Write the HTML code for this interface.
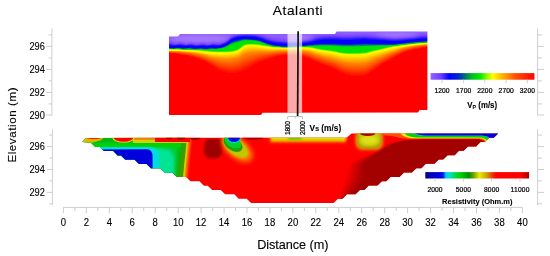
<!DOCTYPE html>
<html lang="en"><head><meta charset="utf-8"><title>Atalanti</title>
<style>html,body{margin:0;padding:0;background:#fff;overflow:hidden}svg{display:block}text{font-family:"Liberation Sans",sans-serif;fill:#111}.s{fill:#000;stroke:#000;stroke-width:0.22px}.b{fill:#000;stroke:#000;stroke-width:0.1px}.m{fill:#000;stroke:#000;stroke-width:0.12px}</style></head><body>
<svg width="550" height="256" viewBox="0 0 550 256">
<rect width="550" height="256" fill="#fff"/>
<defs><clipPath id="ct"><polygon points="169,36.6 178,36.6 180,34 335,34 336.5,31.4 427.4,31.4 427.4,110 419.5,110 418,112.5 262.5,112.8 261,115 169,115"/></clipPath><clipPath id="cb"><polygon points="82.5,142 86,138 346.5,137.7 351.6,133.4 498.2,133.4 498.2,133.4 493.8,137.8 489.3,137.8 484.9,142.1 480.5,142.1 476.1,146.5 468,146.4 463.6,150.8 459,150.8 454.6,155.2 447.6,155.2 443.2,159.5 438.8,159.5 434.4,163.8 425.8,163.8 421.4,168.2 416.3,168.2 411.9,172.5 403.9,172.6 399.5,176.9 390.6,176.9 386.2,181.2 381.8,181.2 377.4,185.6 368.8,185.6 364.4,189.9 359.9,189.9 355.5,194.3 346.9,194.3 342.5,198.7 338,198.7 333.6,203 251.1,203 251.1,203 246.7,198.7 238.7,198.7 234.3,194.3 225.1,194.3 220.7,190 212.1,190 207.7,185.7 203.9,185.7 199.5,181.3 190.5,181.3 186.1,177 177,177 172.6,172.7 164.5,172.7 160.1,168.3 151,168.3 146.6,164 139,164 134.6,159.7 125.4,159.7 121,155.4 117.7,155.4 113.3,151 103.9,151 99.5,146.7 95.2,146.7 90.8,142.4"/></clipPath><filter id="b05" x="-10%" y="-10%" width="120%" height="120%"><feGaussianBlur stdDeviation="0.5"/></filter><filter id="b1" x="-50%" y="-50%" width="200%" height="200%"><feGaussianBlur stdDeviation="1"/></filter><filter id="b15" x="-50%" y="-50%" width="200%" height="200%"><feGaussianBlur stdDeviation="1.5"/></filter><filter id="b2" x="-50%" y="-50%" width="200%" height="200%"><feGaussianBlur stdDeviation="2"/></filter><filter id="b3" x="-50%" y="-50%" width="200%" height="200%"><feGaussianBlur stdDeviation="3"/></filter><filter id="b4" x="-50%" y="-50%" width="200%" height="200%"><feGaussianBlur stdDeviation="4"/></filter><filter id="b07" x="-50%" y="-50%" width="200%" height="200%"><feGaussianBlur stdDeviation="0.7"/></filter><linearGradient id="gvp" x1="0" x2="1" y1="0" y2="0"><stop offset="0" stop-color="#965fff"/><stop offset="0.1" stop-color="#6e3cff"/><stop offset="0.18" stop-color="#0000ff"/><stop offset="0.27" stop-color="#0028c8"/><stop offset="0.33" stop-color="#006e6e"/><stop offset="0.4" stop-color="#00be1e"/><stop offset="0.48" stop-color="#00eb00"/><stop offset="0.54" stop-color="#8cf500"/><stop offset="0.6" stop-color="#ffff00"/><stop offset="0.7" stop-color="#ffaa00"/><stop offset="0.82" stop-color="#ff5000"/><stop offset="1" stop-color="#ff0000"/></linearGradient><linearGradient id="grs" x1="0" x2="1" y1="0" y2="0"><stop offset="0" stop-color="#000096"/><stop offset="0.13" stop-color="#0000e1"/><stop offset="0.172" stop-color="#0014eb"/><stop offset="0.198" stop-color="#00cdee"/><stop offset="0.235" stop-color="#00e1c8"/><stop offset="0.275" stop-color="#00dc64"/><stop offset="0.33" stop-color="#00d700"/><stop offset="0.42" stop-color="#008c00"/><stop offset="0.47" stop-color="#78aa00"/><stop offset="0.52" stop-color="#ebeb00"/><stop offset="0.6" stop-color="#c89600"/><stop offset="0.645" stop-color="#e63c00"/><stop offset="0.68" stop-color="#ff0000"/><stop offset="0.92" stop-color="#ff0000"/><stop offset="1" stop-color="#a50000"/></linearGradient></defs>
<path d="M51.9 28.5V115.4M48.7 34.9H51.9M46.3 46.4H51.9M48.7 57.9H51.9M46.3 69.4H51.9M48.7 80.9H51.9M46.3 92.4H51.9M48.7 103.9H51.9M46.3 115H51.9" stroke="#cecece" stroke-width="1" fill="none"/>
<path d="M537.6 28.5V115.4M537.6 34.9H542M537.6 46.4H544M537.6 57.9H542M537.6 69.4H544M537.6 80.9H542M537.6 92.4H544M537.6 103.9H542M537.6 115H544" stroke="#cecece" stroke-width="1" fill="none"/>
<path d="M52.4 129.3V205.3M49.2 135.1H52.4M46.8 146.6H52.4M49.2 158.1H52.4M46.8 169.5H52.4M49.2 180.9H52.4M46.8 192.4H52.4M49.2 203.8H52.4" stroke="#cecece" stroke-width="1" fill="none"/>
<path d="M537.6 129.3V205.3M537.6 135.1H542M537.6 146.6H544M537.6 158.1H542M537.6 169.5H544M537.6 180.9H542M537.6 192.4H544M537.6 203.8H542" stroke="#cecece" stroke-width="1" fill="none"/>
<path d="M63.4 207.4H522.6M63.4 207.4V213.2M74.9 207.4V211M86.3 207.4V213.2M97.8 207.4V211M109.3 207.4V213.2M120.8 207.4V211M132.2 207.4V213.2M143.7 207.4V211M155.2 207.4V213.2M166.7 207.4V211M178.2 207.4V213.2M189.6 207.4V211M201.1 207.4V213.2M212.6 207.4V211M224.1 207.4V213.2M235.5 207.4V211M247 207.4V213.2M258.5 207.4V211M269.9 207.4V213.2M281.4 207.4V211M292.9 207.4V213.2M304.4 207.4V211M315.8 207.4V213.2M327.3 207.4V211M338.8 207.4V213.2M350.3 207.4V211M361.7 207.4V213.2M373.2 207.4V211M384.7 207.4V213.2M396.2 207.4V211M407.6 207.4V213.2M419.1 207.4V211M430.6 207.4V213.2M442.1 207.4V211M453.5 207.4V213.2M465 207.4V211M476.5 207.4V213.2M488 207.4V211M499.4 207.4V213.2M510.9 207.4V211M522.4 207.4V213.2" stroke="#cecece" stroke-width="1" fill="none"/>
<text x="297.7" y="15" font-size="13.7" text-anchor="middle" textLength="49.8" lengthAdjust="spacing" class="m">Atalanti</text>
<text x="292.8" y="249" font-size="12.7" text-anchor="middle" textLength="71.2" lengthAdjust="spacing" class="m">Distance (m)</text>
<text transform="translate(15.8 125) rotate(-90)" class="m" font-size="11.6" text-anchor="middle" textLength="75.2" lengthAdjust="spacing">Elevation (m)</text>
<text x="44.8" y="49.9" font-size="10" text-anchor="end" textLength="15.4" lengthAdjust="spacingAndGlyphs" class="m">296</text>
<text x="44.8" y="73" font-size="10" text-anchor="end" textLength="15.4" lengthAdjust="spacingAndGlyphs" class="m">294</text>
<text x="44.8" y="96" font-size="10" text-anchor="end" textLength="15.4" lengthAdjust="spacingAndGlyphs" class="m">292</text>
<text x="44.8" y="118.5" font-size="10" text-anchor="end" textLength="15.4" lengthAdjust="spacingAndGlyphs" class="m">290</text>
<text x="44.8" y="150.2" font-size="10" text-anchor="end" textLength="15.4" lengthAdjust="spacingAndGlyphs" class="m">296</text>
<text x="44.8" y="173.1" font-size="10" text-anchor="end" textLength="15.4" lengthAdjust="spacingAndGlyphs" class="m">294</text>
<text x="44.8" y="196" font-size="10" text-anchor="end" textLength="15.4" lengthAdjust="spacingAndGlyphs" class="m">292</text>
<text x="63.4" y="225.7" font-size="10.2" text-anchor="middle" textLength="5.3" lengthAdjust="spacingAndGlyphs" class="m">0</text>
<text x="86.3" y="225.7" font-size="10.2" text-anchor="middle" textLength="5.3" lengthAdjust="spacingAndGlyphs" class="m">2</text>
<text x="109.3" y="225.7" font-size="10.2" text-anchor="middle" textLength="5.3" lengthAdjust="spacingAndGlyphs" class="m">4</text>
<text x="132.2" y="225.7" font-size="10.2" text-anchor="middle" textLength="5.3" lengthAdjust="spacingAndGlyphs" class="m">6</text>
<text x="155.2" y="225.7" font-size="10.2" text-anchor="middle" textLength="5.3" lengthAdjust="spacingAndGlyphs" class="m">8</text>
<text x="178.2" y="225.7" font-size="10.2" text-anchor="middle" textLength="10.6" lengthAdjust="spacingAndGlyphs" class="m">10</text>
<text x="201.1" y="225.7" font-size="10.2" text-anchor="middle" textLength="10.6" lengthAdjust="spacingAndGlyphs" class="m">12</text>
<text x="224.1" y="225.7" font-size="10.2" text-anchor="middle" textLength="10.6" lengthAdjust="spacingAndGlyphs" class="m">14</text>
<text x="247" y="225.7" font-size="10.2" text-anchor="middle" textLength="10.6" lengthAdjust="spacingAndGlyphs" class="m">16</text>
<text x="269.9" y="225.7" font-size="10.2" text-anchor="middle" textLength="10.6" lengthAdjust="spacingAndGlyphs" class="m">18</text>
<text x="292.9" y="225.7" font-size="10.2" text-anchor="middle" textLength="10.6" lengthAdjust="spacingAndGlyphs" class="m">20</text>
<text x="315.8" y="225.7" font-size="10.2" text-anchor="middle" textLength="10.6" lengthAdjust="spacingAndGlyphs" class="m">22</text>
<text x="338.8" y="225.7" font-size="10.2" text-anchor="middle" textLength="10.6" lengthAdjust="spacingAndGlyphs" class="m">24</text>
<text x="361.7" y="225.7" font-size="10.2" text-anchor="middle" textLength="10.6" lengthAdjust="spacingAndGlyphs" class="m">26</text>
<text x="384.7" y="225.7" font-size="10.2" text-anchor="middle" textLength="10.6" lengthAdjust="spacingAndGlyphs" class="m">28</text>
<text x="407.6" y="225.7" font-size="10.2" text-anchor="middle" textLength="10.6" lengthAdjust="spacingAndGlyphs" class="m">30</text>
<text x="430.6" y="225.7" font-size="10.2" text-anchor="middle" textLength="10.6" lengthAdjust="spacingAndGlyphs" class="m">32</text>
<text x="453.5" y="225.7" font-size="10.2" text-anchor="middle" textLength="10.6" lengthAdjust="spacingAndGlyphs" class="m">34</text>
<text x="476.5" y="225.7" font-size="10.2" text-anchor="middle" textLength="10.6" lengthAdjust="spacingAndGlyphs" class="m">36</text>
<text x="499.4" y="225.7" font-size="10.2" text-anchor="middle" textLength="10.6" lengthAdjust="spacingAndGlyphs" class="m">38</text>
<text x="522.4" y="225.7" font-size="10.2" text-anchor="middle" textLength="10.6" lengthAdjust="spacingAndGlyphs" class="m">40</text>
<text x="442" y="93" font-size="6.7" text-anchor="middle" textLength="15.2" lengthAdjust="spacing" class="s">1200</text>
<text x="463.6" y="93" font-size="6.7" text-anchor="middle" textLength="15.2" lengthAdjust="spacing" class="s">1700</text>
<text x="484.8" y="93" font-size="6.7" text-anchor="middle" textLength="15.2" lengthAdjust="spacing" class="s">2200</text>
<text x="506.2" y="93" font-size="6.7" text-anchor="middle" textLength="15.2" lengthAdjust="spacing" class="s">2700</text>
<text x="527.4" y="93" font-size="6.7" text-anchor="middle" textLength="15.2" lengthAdjust="spacing" class="s">3200</text>
<text x="435" y="192" font-size="6.7" text-anchor="middle" textLength="15.2" lengthAdjust="spacing" class="s">2000</text>
<text x="463.4" y="192" font-size="6.7" text-anchor="middle" textLength="15.2" lengthAdjust="spacing" class="s">5000</text>
<text x="491.6" y="192" font-size="6.7" text-anchor="middle" textLength="15.2" lengthAdjust="spacing" class="s">8000</text>
<text x="520" y="192" font-size="6.7" text-anchor="middle" textLength="19" lengthAdjust="spacing" class="s">11000</text>
<text x="482.2" y="107.8" class="b" font-size="9" font-weight="bold" text-anchor="middle" textLength="29.8" lengthAdjust="spacingAndGlyphs">V<tspan font-size="6" dy="1.2">P</tspan><tspan dy="-1.2"> (m/s)</tspan></text>
<text x="309.6" y="131.4" class="b" font-size="9" font-weight="bold" textLength="31.6" lengthAdjust="spacingAndGlyphs">V<tspan font-size="6.2">S</tspan> (m/s)</text>
<text x="477.3" y="204" font-size="8.1" text-anchor="middle" font-weight="bold" textLength="70.4" lengthAdjust="spacingAndGlyphs" class="b">Resistivity (Ohm.m)</text>
<text transform="translate(290.2 128) rotate(-90)" class="s" font-size="6.8" text-anchor="middle" textLength="14" lengthAdjust="spacing">1800</text>
<text transform="translate(305.4 128) rotate(-90)" class="s" font-size="6.8" text-anchor="middle" textLength="14" lengthAdjust="spacing">2000</text>
<path d="M287.7 119.3V116.5H302.5V119.3M295.2 116.5V118.4" stroke="#b8b8b8" stroke-width="0.9" fill="none"/>
<rect x="430.6" y="73.1" width="103.8" height="6.6" fill="url(#gvp)"/>
<path d="M442 79.7V83.2M463.6 79.7V83.2M484.8 79.7V83.2M506.2 79.7V83.2M527.4 79.7V83.2" stroke="#cecece" stroke-width="0.9" fill="none"/>
<rect x="425.3" y="172.1" width="103.8" height="6.4" fill="url(#grs)"/>
<path d="M435 178.5V181.6M463.4 178.5V181.6M491.6 178.5V181.6M520 178.5V181.6" stroke="#cecece" stroke-width="0.9" fill="none"/>
<g clip-path="url(#ct)"><g filter="url(#b07)">
<rect x="160" y="25" width="275" height="95" fill="#8e5cff"/>
<path d="M160 125L160 34.7 168 34.7 171 34.6 174 35.3 177 35.1 180 34.6 183 34.9 186 35.4 189 35 192 34.7 195 35.3 198 35.5 201 34.9 204 34.8 207 35.4 210 35.3 213 34.7 216 34.9 219 35.3 222 34.6 225 34 228 32.8 231 31.7 234 31.5 237 31.5 240 31.5 243 31.5 246 31.5 249 31.5 252 31.5 255 31.5 258 31.5 261 31.5 264 31.6 267 32.2 270 32.6 273 32.9 276 33.2 279 33.3 282 33.5 285 33.5 288 33.5 291 33.5 294 33.4 297 33.4 300 33.2 303 33.1 306 32.8 309 32.5 312 32.2 315 31.9 318 31.6 321 31.5 324 31.5 327 31.5 330 31.5 333 31.5 336 31 339 31.1 342 31.2 345 31.3 348 31.3 351 31.3 354 31.2 357 31.1 360 31.1 363 31 366 31.1 369 31.1 372 31.3 375 31.3 378 31.3 381 31.4 384 31.5 387 31.6 390 31.8 393 31.9 396 31.9 399 31.9 402 31.7 405 31.6 408 31.5 411 31.3 414 31.2 417 31.1 420 31 423 30.9 426 30.8 429 30.8 436 30.8 L436 125Z" fill="#8e5cff"/>
<path d="M160 125L160 40.8 168 40.8 171 40.8 174 42 177 41.8 180 40.7 183 41.3 186 42.4 189 41.5 192 40.9 195 42 198 42.5 201 41.3 204 41.2 207 42.4 210 42.1 213 40.8 216 41.3 219 42 222 40.7 225 39.4 228 37.2 231 34.8 234 34.3 237 34.2 240 34.1 243 34.1 246 34.1 249 34.1 252 34.1 255 34.1 258 34.2 261 34.3 264 34.7 267 35.9 270 36.7 273 37.4 276 37.8 279 38.2 282 38.5 285 38.6 288 38.6 291 38.5 294 38.4 297 38.2 300 38 303 37.6 306 37.2 309 36.6 312 35.9 315 35.2 318 34.7 321 34.5 324 34.4 327 34.4 330 34.3 333 34.3 336 33.5 339 33.8 342 34 345 34 348 34 351 34.1 354 33.9 357 33.8 360 33.7 363 33.6 366 33.6 369 33.8 372 34 375 34.1 378 34.2 381 34.3 384 34.4 387 34.8 390 35.2 393 35.4 396 35.4 399 35.2 402 34.9 405 34.6 408 34.4 411 34.2 414 33.9 417 33.7 420 33.5 423 33.3 426 33.2 429 33.1 436 33.1 L436 125Z" fill="#8653ff"/>
<path d="M160 125L160 41.8 168 41.8 171 41.8 174 43 177 42.8 180 41.7 183 42.3 186 43.4 189 42.5 192 41.9 195 43 198 43.5 201 42.3 204 42.2 207 43.4 210 43.1 213 41.8 216 42.3 219 43 222 41.7 225 40.4 228 38.2 231 35.8 234 35 237 34.5 240 34.3 243 34.3 246 34.3 249 34.3 252 34.3 255 34.3 258 34.6 261 35 264 35.7 267 36.9 270 37.7 273 38.4 276 38.8 279 39.2 282 39.5 285 39.6 288 39.6 291 39.5 294 39.4 297 39.2 300 39 303 38.6 306 38.2 309 37.6 312 36.9 315 36.2 318 35.7 321 35.4 324 35.2 327 35.1 330 35 333 35 336 34.5 339 34.8 342 35 345 35 348 35 351 35.1 354 34.9 357 34.8 360 34.7 363 34.6 366 34.6 369 34.8 372 35 375 35.1 378 35.2 381 35.3 384 35.4 387 35.8 390 36.2 393 36.4 396 36.4 399 36.2 402 35.9 405 35.6 408 35.4 411 35.2 414 34.9 417 34.7 420 34.5 423 34.3 426 34.2 429 34.1 436 34.1 L436 125Z" fill="#7e4bff"/>
<path d="M160 125L160 42.8 168 42.8 171 42.8 174 44 177 43.8 180 42.7 183 43.3 186 44.4 189 43.5 192 42.9 195 44 198 44.5 201 43.3 204 43.2 207 44.4 210 44.1 213 42.8 216 43.3 219 44 222 42.7 225 41.4 228 39.2 231 36.8 234 35.6 237 34.9 240 34.5 243 34.5 246 34.5 249 34.5 252 34.5 255 34.5 258 35 261 35.7 264 36.7 267 37.9 270 38.7 273 39.4 276 39.8 279 40.2 282 40.5 285 40.6 288 40.6 291 40.5 294 40.4 297 40.2 300 40 303 39.6 306 39.2 309 38.6 312 37.9 315 37.2 318 36.7 321 36.3 324 36 327 35.8 330 35.6 333 35.6 336 35.5 339 35.8 342 36 345 36 348 36 351 36.1 354 35.9 357 35.8 360 35.7 363 35.6 366 35.6 369 35.8 372 36 375 36.1 378 36.2 381 36.3 384 36.4 387 36.8 390 37.2 393 37.4 396 37.4 399 37.2 402 36.9 405 36.6 408 36.4 411 36.2 414 35.9 417 35.7 420 35.5 423 35.3 426 35.2 429 35.1 436 35.1 L436 125Z" fill="#7642ff"/>
<path d="M160 125L160 43.5 168 43.5 171 43.5 174 44.7 177 44.4 180 43.5 183 44.1 186 45 189 44.2 192 43.7 195 44.8 198 45.1 201 44 204 44 207 45.1 210 44.7 213 43.6 216 44.1 219 44.7 222 43.4 225 42.1 228 39.9 231 37.6 234 36.2 237 35.3 240 34.9 243 34.8 246 34.8 249 34.8 252 34.9 255 34.9 258 35.6 261 36.4 264 37.6 267 38.7 270 39.5 273 40.2 276 40.6 279 41 282 41.3 285 41.4 288 41.4 291 41.3 294 41.2 297 41.1 300 40.8 303 40.5 306 40 309 39.4 312 38.8 315 38.1 318 37.5 321 37.1 324 36.8 327 36.6 330 36.4 333 36.4 336 36.4 339 36.7 342 36.9 345 36.9 348 37 351 37 354 36.8 357 36.7 360 36.6 363 36.5 366 36.5 369 36.7 372 36.9 375 37 378 37.1 381 37.2 384 37.3 387 37.7 390 38 393 38.2 396 38.2 399 38.1 402 37.8 405 37.5 408 37.3 411 37 414 36.8 417 36.5 420 36.3 423 36.2 426 36 429 35.9 436 35.9 L436 125Z" fill="#5e35fe"/>
<path d="M160 125L160 44 168 44 171 44.1 174 45 177 44.7 180 44 183 44.6 186 45.3 189 44.6 192 44.3 195 45.2 198 45.4 201 44.5 204 44.5 207 45.4 210 45 213 44.2 216 44.6 219 45 222 43.8 225 42.6 228 40.4 231 38.1 234 36.8 237 35.9 240 35.4 243 35.3 246 35.3 249 35.3 252 35.4 255 35.5 258 36.2 261 37 264 38.2 267 39.4 270 40.2 273 40.8 276 41.3 279 41.7 282 42 285 42.1 288 42.1 291 42 294 41.9 297 41.7 300 41.5 303 41.2 306 40.8 309 40.2 312 39.5 315 38.9 318 38.3 321 37.9 324 37.6 327 37.4 330 37.2 333 37.2 336 37.2 339 37.5 342 37.7 345 37.7 348 37.8 351 37.8 354 37.6 357 37.5 360 37.4 363 37.3 366 37.3 369 37.5 372 37.7 375 37.8 378 37.8 381 37.9 384 38.1 387 38.4 390 38.8 393 39 396 39 399 38.8 402 38.5 405 38.2 408 38 411 37.7 414 37.5 417 37.2 420 37 423 36.8 426 36.7 429 36.6 436 36.6 L436 125Z" fill="#4728fe"/>
<path d="M160 125L160 44.4 168 44.4 171 44.6 174 45.3 177 45 180 44.5 183 45.1 186 45.5 189 45 192 44.8 195 45.6 198 45.6 201 45 204 45.1 207 45.7 210 45.3 213 44.7 216 45.1 219 45.3 222 44.3 225 43.1 228 40.9 231 38.6 234 37.3 237 36.5 240 36 243 35.8 246 35.7 249 35.8 252 35.9 255 36.1 258 36.8 261 37.6 264 38.8 267 40 270 40.8 273 41.5 276 41.9 279 42.3 282 42.6 285 42.8 288 42.7 291 42.6 294 42.6 297 42.4 300 42.2 303 41.9 306 41.5 309 40.9 312 40.3 315 39.6 318 39.1 321 38.7 324 38.4 327 38.2 330 38.1 333 38 336 38.1 339 38.3 342 38.5 345 38.6 348 38.6 351 38.6 354 38.4 357 38.3 360 38.1 363 38.1 366 38.1 369 38.2 372 38.4 375 38.5 378 38.6 381 38.7 384 38.8 387 39.2 390 39.5 393 39.7 396 39.7 399 39.5 402 39.2 405 38.9 408 38.7 411 38.4 414 38.2 417 37.9 420 37.7 423 37.5 426 37.4 429 37.3 436 37.3 L436 125Z" fill="#2f1afd"/>
<path d="M160 125L160 44.9 168 44.9 171 45.2 174 45.6 177 45.3 180 45 183 45.6 186 45.8 189 45.3 192 45.4 195 46 198 45.9 201 45.4 204 45.7 207 46.1 210 45.6 213 45.3 216 45.6 219 45.5 222 44.7 225 43.5 228 41.4 231 39.1 234 37.9 237 37 240 36.5 243 36.2 246 36.1 249 36.2 252 36.4 255 36.7 258 37.4 261 38.3 264 39.5 267 40.6 270 41.5 273 42.1 276 42.6 279 43 282 43.3 285 43.4 288 43.4 291 43.3 294 43.2 297 43.1 300 42.9 303 42.6 306 42.2 309 41.6 312 41 315 40.4 318 39.9 321 39.5 324 39.2 327 39 330 38.9 333 38.9 336 38.9 339 39.2 342 39.4 345 39.4 348 39.4 351 39.4 354 39.2 357 39.1 360 38.9 363 38.8 366 38.8 369 39 372 39.2 375 39.3 378 39.4 381 39.4 384 39.6 387 39.9 390 40.3 393 40.5 396 40.4 399 40.3 402 40 405 39.7 408 39.4 411 39.1 414 38.9 417 38.6 420 38.4 423 38.2 426 38.1 429 38 436 38 L436 125Z" fill="#180dfd"/>
<path d="M160 125L160 45.3 168 45.3 171 45.7 174 46 177 45.6 180 45.6 183 46.1 186 46.1 189 45.7 192 46 195 46.4 198 46.2 201 45.9 204 46.3 207 46.4 210 45.9 213 45.8 216 46.2 219 45.8 222 45.2 225 44 228 41.9 231 39.7 234 38.4 237 37.6 240 37.1 243 36.7 246 36.6 249 36.7 252 36.9 255 37.3 258 38.1 261 38.9 264 40.1 267 41.3 270 42.1 273 42.7 276 43.2 279 43.6 282 43.9 285 44.1 288 44 291 44 294 43.9 297 43.8 300 43.5 303 43.3 306 42.9 309 42.4 312 41.7 315 41.1 318 40.6 321 40.3 324 40 327 39.9 330 39.8 333 39.7 336 39.7 339 40 342 40.2 345 40.2 348 40.2 351 40.2 354 40 357 39.8 360 39.7 363 39.6 366 39.6 369 39.8 372 40 375 40.1 378 40.1 381 40.2 384 40.3 387 40.7 390 41 393 41.2 396 41.2 399 41 402 40.7 405 40.4 408 40.1 411 39.8 414 39.6 417 39.3 420 39.1 423 38.9 426 38.8 429 38.7 436 38.7 L436 125Z" fill="#0000fc"/>
<path d="M160 125L160 46.5 168 46.5 171 47 174 47.1 177 46.7 180 46.8 183 47.3 186 47.2 189 46.9 192 47.3 195 47.6 198 47.3 201 47.1 204 47.5 207 47.6 210 47.1 213 47.1 216 47.4 219 47 222 46.4 225 45.2 228 43.1 231 40.9 234 39.7 237 38.9 240 38.3 243 37.9 246 37.8 249 37.9 252 38.2 255 38.6 258 39.4 261 40.2 264 41.4 267 42.6 270 43.4 273 44.1 276 44.5 279 44.9 282 45.3 285 45.4 288 45.4 291 45.3 294 45.2 297 45.1 300 44.9 303 44.6 306 44.3 309 43.9 312 43.4 315 42.9 318 42.5 321 42.3 324 42.1 327 42 330 41.9 333 41.8 336 41.8 339 42.1 342 42.3 345 42.3 348 42.3 351 42.3 354 42.1 357 42 360 41.8 363 41.7 366 41.7 369 41.9 372 42.1 375 42.2 378 42.2 381 42.3 384 42.4 387 42.7 390 42.9 393 42.9 396 42.8 399 42.5 402 42.1 405 41.8 408 41.5 411 41.2 414 40.9 417 40.6 420 40.4 423 40.2 426 40 429 39.9 436 39.9 L436 125Z" fill="#0000fc"/>
<path d="M160 125L160 47.6 168 47.6 171 48.1 174 48.2 177 47.8 180 47.9 183 48.4 186 48.3 189 48 192 48.4 195 48.7 198 48.4 201 48.2 204 48.7 207 48.7 210 48.2 213 48.2 216 48.5 219 48.1 222 47.5 225 46.4 228 44.4 231 42.2 234 41 237 40.2 240 39.6 243 39.1 246 39 249 39.1 252 39.4 255 39.8 258 40.5 261 41.3 264 42.5 267 43.7 270 44.5 273 45.2 276 45.6 279 46.1 282 46.4 285 46.5 288 46.5 291 46.4 294 46.3 297 46.2 300 46 303 45.7 306 45.4 309 45.1 312 44.8 315 44.4 318 44.2 321 44.1 324 44.1 327 44 330 43.9 333 43.9 336 43.9 339 44.2 342 44.4 345 44.4 348 44.4 351 44.4 354 44.2 357 44 360 43.9 363 43.8 366 43.8 369 43.9 372 44.1 375 44.1 378 44.2 381 44.2 384 44.3 387 44.4 390 44.5 393 44.4 396 44.1 399 43.7 402 43.3 405 43 408 42.7 411 42.4 414 42.1 417 41.8 420 41.5 423 41.3 426 41.1 429 41 436 41 L436 125Z" fill="#0039bd"/>
<path d="M160 125L160 47.9 168 47.9 171 48.4 174 48.5 177 48.1 180 48.2 183 48.7 186 48.6 189 48.3 192 48.6 195 49 198 48.7 201 48.5 204 48.9 207 48.9 210 48.5 213 48.5 216 48.8 219 48.3 222 47.7 225 46.7 228 44.9 231 43 234 41.8 237 41 240 40.2 243 39.6 246 39.4 249 39.5 252 39.7 255 40.1 258 40.7 261 41.6 264 42.8 267 43.9 270 44.8 273 45.4 276 45.9 279 46.3 282 46.6 285 46.8 288 46.7 291 46.7 294 46.6 297 46.5 300 46.2 303 46 306 45.7 309 45.4 312 45.2 315 44.9 318 44.7 321 44.6 324 44.6 327 44.6 330 44.5 333 44.5 336 44.6 339 44.8 342 45 345 45.1 348 45.1 351 45.1 354 44.9 357 44.8 360 44.7 363 44.6 366 44.6 369 44.6 372 44.7 375 44.7 378 44.7 381 44.7 384 44.7 387 44.8 390 44.8 393 44.7 396 44.4 399 44 402 43.7 405 43.3 408 43 411 42.7 414 42.4 417 42.1 420 41.9 423 41.7 426 41.5 429 41.4 436 41.4 L436 125Z" fill="#00727e"/>
<path d="M160 125L160 48.1 168 48.1 171 48.6 174 48.7 177 48.3 180 48.4 183 48.9 186 48.8 189 48.5 192 48.9 195 49.2 198 48.9 201 48.7 204 49.2 207 49.2 210 48.7 213 48.7 216 49 219 48.6 222 48 225 47.1 228 45.5 231 43.7 234 42.5 237 41.7 240 40.9 243 40 246 39.8 249 39.9 252 40.1 255 40.5 258 41 261 41.8 264 43 267 44.2 270 45 273 45.7 276 46.1 279 46.6 282 46.9 285 47 288 47 291 46.9 294 46.8 297 46.7 300 46.5 303 46.2 306 45.9 309 45.6 312 45.5 315 45.3 318 45.2 321 45.1 324 45.1 327 45.1 330 45.1 333 45.2 336 45.3 339 45.5 342 45.7 345 45.7 348 45.8 351 45.8 354 45.7 357 45.5 360 45.5 363 45.4 366 45.3 369 45.3 372 45.2 375 45.2 378 45.2 381 45.1 384 45.1 387 45.1 390 45 393 44.9 396 44.7 399 44.3 402 44 405 43.7 408 43.4 411 43 414 42.7 417 42.5 420 42.2 423 42 426 41.8 429 41.7 436 41.7 L436 125Z" fill="#00ab3f"/>
<path d="M160 125L160 48.4 168 48.4 171 48.9 174 49 177 48.6 180 48.7 183 49.2 186 49.1 189 48.8 192 49.1 195 49.5 198 49.2 201 49 204 49.4 207 49.4 210 49 213 49 216 49.3 219 48.8 222 48.2 225 47.4 228 46 231 44.4 234 43.3 237 42.4 240 41.5 243 40.5 246 40.2 249 40.3 252 40.5 255 40.8 258 41.3 261 42.1 264 43.3 267 44.4 270 45.3 273 45.9 276 46.4 279 46.8 282 47.1 285 47.3 288 47.2 291 47.2 294 47.1 297 47 300 46.7 303 46.5 306 46.2 309 45.9 312 45.9 315 45.8 318 45.7 321 45.6 324 45.7 327 45.7 330 45.8 333 45.8 336 45.9 339 46.2 342 46.4 345 46.4 348 46.5 351 46.5 354 46.4 357 46.3 360 46.2 363 46.1 366 46.1 369 46 372 45.8 375 45.7 378 45.6 381 45.6 384 45.5 387 45.4 390 45.3 393 45.2 396 44.9 399 44.6 402 44.3 405 44 408 43.7 411 43.4 414 43.1 417 42.8 420 42.6 423 42.4 426 42.2 429 42.1 436 42.1 L436 125Z" fill="#00e400"/>
<path d="M160 125L160 48.9 168 48.9 171 49.4 174 49.5 177 49.1 180 49.2 183 49.7 186 49.6 189 49.3 192 49.7 195 50 198 49.7 201 49.5 204 49.9 207 50 210 49.9 213 50 216 50.3 219 50.1 222 49.8 225 49.4 228 48.7 231 47.8 234 47 237 46.2 240 44.8 243 43 246 42.2 249 42.1 252 42.1 255 42.3 258 42.7 261 43.3 264 44.1 267 45 270 45.8 273 46.5 276 46.9 279 47.3 282 47.7 285 47.8 288 47.8 291 47.7 294 47.6 297 47.5 300 47.3 303 47 306 46.7 309 46.4 312 46.5 315 46.8 318 47.1 321 47.4 324 47.6 327 47.8 330 48.1 333 48.4 336 48.7 339 49.2 342 49.6 345 49.7 348 49.8 351 49.9 354 49.8 357 49.8 360 49.7 363 49.6 366 49.3 369 48.9 372 48.4 375 48 378 47.6 381 47.2 384 46.8 387 46.3 390 45.9 393 45.7 396 45.4 399 45.2 402 44.8 405 44.5 408 44.3 411 43.9 414 43.7 417 43.4 420 43.1 423 43 426 42.8 429 42.7 436 42.7 L436 125Z" fill="#00e400"/>
<path d="M160 125L160 49.3 168 49.3 171 49.7 174 49.9 177 49.5 180 49.6 183 50.1 186 50 189 49.7 192 50.1 195 50.4 198 50.2 201 50.1 204 50.5 207 50.6 210 50.9 213 51.2 216 51.3 219 51.4 222 51.4 225 51.4 228 51.3 231 51 234 50.6 237 49.7 240 48.1 243 45.4 246 44.2 249 43.8 252 43.7 255 43.9 258 44.2 261 44.6 264 45.1 267 45.6 270 46.3 273 46.9 276 47.3 279 47.7 282 48 285 48.1 288 48.1 291 48 294 48 297 47.9 300 47.7 303 47.4 306 47.2 309 46.9 312 47.1 315 47.8 318 48.5 321 49.1 324 49.5 327 49.9 330 50.3 333 50.8 336 51.3 339 52 342 52.6 345 52.9 348 53.1 351 53.1 354 53.1 357 53.1 360 53 363 52.8 366 52.5 369 51.7 372 50.9 375 50.1 378 49.5 381 48.8 384 48.1 387 47.3 390 46.6 393 46.3 396 46 399 45.6 402 45.3 405 45 408 44.7 411 44.4 414 44 417 43.8 420 43.5 423 43.3 426 43.2 429 43.1 436 43.1 L436 125Z" fill="#40eb00"/>
<path d="M160 125L160 49.4 168 49.4 171 49.7 174 49.8 177 49.6 180 49.7 183 50 186 50 189 49.9 192 50.2 195 50.5 198 50.4 201 50.4 204 50.8 207 51 210 51.3 213 51.6 216 51.7 219 51.8 222 51.8 225 51.8 228 51.7 231 51.4 234 51 237 50.1 240 48.5 243 45.8 246 44.6 249 44.2 252 44.1 255 44.3 258 44.6 261 45 264 45.5 267 45.9 270 46.6 273 47.1 276 47.4 279 47.7 282 47.9 285 48 288 48 291 47.9 294 47.9 297 47.8 300 47.6 303 47.4 306 47.3 309 47.2 312 47.5 315 48.2 318 48.9 321 49.5 324 49.9 327 50.3 330 50.7 333 51.2 336 51.7 339 52.4 342 53 345 53.3 348 53.5 351 53.5 354 53.5 357 53.5 360 53.4 363 53.2 366 52.9 369 52.1 372 51.3 375 50.5 378 49.9 381 49.2 384 48.5 387 47.7 390 47 393 46.6 396 46.2 399 45.8 402 45.4 405 45 408 44.7 411 44.4 414 44 417 43.7 420 43.5 423 43.3 426 43.1 429 43 436 43 L436 125Z" fill="#80f200"/>
<path d="M160 125L160 49.4 168 49.4 171 49.6 174 49.7 177 49.6 180 49.7 183 50 186 50 189 50 192 50.3 195 50.5 198 50.6 201 50.7 204 51.1 207 51.4 210 51.7 213 52 216 52.1 219 52.2 222 52.2 225 52.2 228 52.1 231 51.8 234 51.4 237 50.5 240 48.9 243 46.2 246 45 249 44.6 252 44.5 255 44.7 258 45 261 45.4 264 45.9 267 46.3 270 46.8 273 47.2 276 47.5 279 47.7 282 47.8 285 47.9 288 47.9 291 47.8 294 47.8 297 47.8 300 47.6 303 47.5 306 47.4 309 47.5 312 47.9 315 48.6 318 49.3 321 49.9 324 50.3 327 50.7 330 51.1 333 51.6 336 52.1 339 52.8 342 53.4 345 53.7 348 53.9 351 53.9 354 53.9 357 53.9 360 53.8 363 53.6 366 53.3 369 52.5 372 51.7 375 50.9 378 50.3 381 49.6 384 48.9 387 48.1 390 47.4 393 46.8 396 46.4 399 45.9 402 45.5 405 45.1 408 44.7 411 44.4 414 44 417 43.7 420 43.5 423 43.2 426 43.1 429 43 436 43 L436 125Z" fill="#bff800"/>
<path d="M160 125L160 49.5 168 49.5 171 49.6 174 49.6 177 49.7 180 49.8 183 49.9 186 50 189 50.1 192 50.3 195 50.6 198 50.7 201 51 204 51.4 207 51.8 210 52.1 213 52.4 216 52.5 219 52.6 222 52.6 225 52.6 228 52.5 231 52.2 234 51.8 237 50.9 240 49.3 243 46.6 246 45.4 249 45 252 44.9 255 45.1 258 45.4 261 45.8 264 46.3 267 46.7 270 47.1 273 47.3 276 47.5 279 47.6 282 47.7 285 47.8 288 47.8 291 47.7 294 47.7 297 47.7 300 47.6 303 47.5 306 47.5 309 47.7 312 48.3 315 49 318 49.7 321 50.3 324 50.7 327 51.1 330 51.5 333 52 336 52.5 339 53.2 342 53.8 345 54.1 348 54.3 351 54.3 354 54.3 357 54.3 360 54.2 363 54 366 53.7 369 52.9 372 52.1 375 51.3 378 50.7 381 50 384 49.3 387 48.5 390 47.8 393 47.1 396 46.6 399 46.1 402 45.6 405 45.2 408 44.8 411 44.4 414 44 417 43.7 420 43.4 423 43.2 426 43 429 42.9 436 42.9 L436 125Z" fill="#ffff00"/>
<path d="M160 125L160 50.2 168 50.2 171 50.2 174 50.3 177 50.4 180 50.5 183 50.6 186 50.7 189 50.9 192 51.1 195 51.3 198 51.5 201 51.8 204 52.2 207 52.6 210 53 213 53.3 216 53.4 219 53.5 222 53.5 225 53.5 228 53.4 231 53.1 234 52.7 237 51.8 240 50.2 243 47.5 246 46.3 249 45.9 252 45.8 255 46 258 46.3 261 46.7 264 47.2 267 47.6 270 47.9 273 48.1 276 48.2 279 48.3 282 48.4 285 48.4 288 48.4 291 48.4 294 48.4 297 48.4 300 48.3 303 48.2 306 48.2 309 48.6 312 49.2 315 49.9 318 50.6 321 51.2 324 51.6 327 52 330 52.4 333 52.9 336 53.4 339 54.1 342 54.7 345 55 348 55.2 351 55.2 354 55.2 357 55.2 360 55.1 363 54.9 366 54.6 369 53.8 372 53 375 52.2 378 51.6 381 50.9 384 50.2 387 49.4 390 48.7 393 48 396 47.4 399 46.9 402 46.4 405 45.9 408 45.5 411 45.1 414 44.7 417 44.4 420 44.1 423 43.9 426 43.7 429 43.6 436 43.6 L436 125Z" fill="#ffee00"/>
<path d="M160 125L160 50.9 168 50.9 171 51 174 51 177 51.1 180 51.2 183 51.4 186 51.5 189 51.7 192 51.9 195 52.1 198 52.3 201 52.6 204 53 207 53.5 210 53.9 213 54.2 216 54.3 219 54.5 222 54.5 225 54.5 228 54.4 231 54.1 234 53.7 237 52.9 240 51.2 243 48.6 246 47.4 249 47 252 46.8 255 47 258 47.3 261 47.7 264 48.1 267 48.5 270 48.8 273 49 276 49.1 279 49.1 282 49.2 285 49.2 288 49.2 291 49.2 294 49.2 297 49.2 300 49.1 303 49.1 306 49.1 309 49.4 312 50.1 315 50.8 318 51.5 321 52.1 324 52.6 327 53 330 53.4 333 53.9 336 54.4 339 55.2 342 55.8 345 56.1 348 56.3 351 56.3 354 56.3 357 56.3 360 56.3 363 56 366 55.7 369 54.9 372 54 375 53.3 378 52.6 381 51.9 384 51.2 387 50.4 390 49.6 393 48.9 396 48.3 399 47.7 402 47.2 405 46.7 408 46.2 411 45.8 414 45.4 417 45.1 420 44.8 423 44.6 426 44.4 429 44.3 436 44.3 L436 125Z" fill="#ffe300"/>
<path d="M160 125L160 51 168 51 171 51 174 51.1 177 51.2 180 51.3 183 51.4 186 51.6 189 51.8 192 52 195 52.3 198 52.5 201 52.9 204 53.3 207 53.9 210 54.3 213 54.6 216 54.8 219 55 222 55 225 55.1 228 55 231 54.7 234 54.3 237 53.5 240 51.9 243 49.3 246 48.1 249 47.7 252 47.5 255 47.6 258 47.8 261 48.2 264 48.5 267 48.9 270 49.1 273 49.3 276 49.3 279 49.4 282 49.4 285 49.4 288 49.4 291 49.4 294 49.4 297 49.4 300 49.4 303 49.3 306 49.4 309 49.8 312 50.4 315 51.2 318 52 321 52.6 324 53.1 327 53.6 330 54 333 54.5 336 55.1 339 55.9 342 56.5 345 56.9 348 57.1 351 57.2 354 57.2 357 57.2 360 57.1 363 56.9 366 56.5 369 55.7 372 54.8 375 54 378 53.2 381 52.5 384 51.7 387 50.8 390 50 393 49.3 396 48.6 399 47.9 402 47.3 405 46.8 408 46.4 411 45.9 414 45.5 417 45.2 420 44.9 423 44.7 426 44.5 429 44.4 436 44.4 L436 125Z" fill="#ffd700"/>
<path d="M160 125L160 51 168 51 171 51 174 51.1 177 51.2 180 51.4 183 51.5 186 51.7 189 51.9 192 52.1 195 52.4 198 52.8 201 53.1 204 53.6 207 54.2 210 54.7 213 55.1 216 55.3 219 55.5 222 55.6 225 55.7 228 55.6 231 55.3 234 54.8 237 54.1 240 52.6 243 50.1 246 48.9 249 48.4 252 48.2 255 48.2 258 48.4 261 48.6 264 49 267 49.3 270 49.5 273 49.6 276 49.6 279 49.6 282 49.6 285 49.6 288 49.6 291 49.6 294 49.6 297 49.6 300 49.6 303 49.6 306 49.7 309 50.1 312 50.8 315 51.6 318 52.4 321 53.1 324 53.6 327 54.1 330 54.7 333 55.2 336 55.8 339 56.6 342 57.2 345 57.6 348 57.9 351 58 354 58 357 58 360 58 363 57.7 366 57.4 369 56.5 372 55.5 375 54.7 378 53.9 381 53.1 384 52.2 387 51.3 390 50.4 393 49.6 396 48.9 399 48.2 402 47.5 405 47 408 46.5 411 46.1 414 45.6 417 45.3 420 45 423 44.7 426 44.5 429 44.4 436 44.4 L436 125Z" fill="#ffcc00"/>
<path d="M160 125L160 51.1 168 51.1 171 51.1 174 51.2 177 51.3 180 51.4 183 51.6 186 51.8 189 52 192 52.3 195 52.6 198 53 201 53.4 204 53.9 207 54.6 210 55.1 213 55.5 216 55.8 219 56 222 56.2 225 56.3 228 56.2 231 55.9 234 55.4 237 54.7 240 53.2 243 50.8 246 49.6 249 49.1 252 48.8 255 48.8 258 48.9 261 49.1 264 49.4 267 49.7 270 49.8 273 49.9 276 49.9 279 49.9 282 49.8 285 49.8 288 49.8 291 49.8 294 49.8 297 49.8 300 49.8 303 49.9 306 50 309 50.5 312 51.2 315 52.1 318 52.9 321 53.6 324 54.2 327 54.7 330 55.3 333 55.9 336 56.5 339 57.3 342 58 345 58.4 348 58.8 351 58.9 354 58.9 357 58.9 360 58.8 363 58.6 366 58.2 369 57.3 372 56.3 375 55.4 378 54.5 381 53.6 384 52.7 387 51.8 390 50.9 393 50 396 49.2 399 48.4 402 47.7 405 47.1 408 46.6 411 46.2 414 45.7 417 45.4 420 45.1 423 44.8 426 44.6 429 44.5 436 44.5 L436 125Z" fill="#ffc000"/>
<path d="M160 125L160 51.1 168 51.1 171 51.1 174 51.2 177 51.3 180 51.5 183 51.7 186 51.9 189 52.1 192 52.4 195 52.8 198 53.2 201 53.6 204 54.2 207 54.9 210 55.5 213 56 216 56.3 219 56.5 222 56.7 225 56.8 228 56.8 231 56.5 234 56 237 55.3 240 53.9 243 51.6 246 50.4 249 49.8 252 49.5 255 49.4 258 49.5 261 49.6 264 49.8 267 50 270 50.2 273 50.2 276 50.1 279 50.1 282 50.1 285 50 288 50 291 50 294 50 297 50.1 300 50.1 303 50.2 306 50.3 309 50.8 312 51.6 315 52.5 318 53.4 321 54.1 324 54.7 327 55.3 330 55.9 333 56.5 336 57.2 339 58 342 58.7 345 59.2 348 59.6 351 59.7 354 59.7 357 59.7 360 59.6 363 59.4 366 59 369 58.1 372 57 375 56.1 378 55.1 381 54.2 384 53.3 387 52.3 390 51.3 393 50.4 396 49.5 399 48.7 402 47.9 405 47.3 408 46.8 411 46.3 414 45.8 417 45.5 420 45.1 423 44.9 426 44.7 429 44.5 436 44.5 L436 125Z" fill="#ffb500"/>
<path d="M160 125L160 51.1 168 51.1 171 51.2 174 51.3 177 51.4 180 51.6 183 51.8 186 52 189 52.2 192 52.6 195 52.9 198 53.4 201 53.9 204 54.5 207 55.3 210 55.9 213 56.4 216 56.8 219 57.1 222 57.3 225 57.4 228 57.4 231 57.1 234 56.6 237 55.9 240 54.6 243 52.3 246 51.1 249 50.5 252 50.2 255 50 258 50 261 50.1 264 50.3 267 50.4 270 50.5 273 50.5 276 50.4 279 50.3 282 50.3 285 50.3 288 50.3 291 50.3 294 50.3 297 50.3 300 50.3 303 50.4 306 50.6 309 51.2 312 52 315 52.9 318 53.8 321 54.6 324 55.2 327 55.9 330 56.5 333 57.2 336 57.9 339 58.7 342 59.4 345 60 348 60.4 351 60.5 354 60.5 357 60.5 360 60.5 363 60.3 366 59.9 369 59 372 57.8 375 56.8 378 55.8 381 54.8 384 53.8 387 52.7 390 51.7 393 50.8 396 49.9 399 49 402 48.1 405 47.5 408 46.9 411 46.4 414 45.9 417 45.6 420 45.2 423 45 426 44.7 429 44.6 436 44.6 L436 125Z" fill="#ffa900"/>
<path d="M160 125L160 51.2 168 51.2 171 51.2 174 51.3 177 51.5 180 51.6 183 51.8 186 52.1 189 52.3 192 52.7 195 53.1 198 53.6 201 54.1 204 54.8 207 55.6 210 56.3 213 56.9 216 57.3 219 57.6 222 57.8 225 58 228 58 231 57.6 234 57.2 237 56.5 240 55.2 243 53.1 246 51.9 249 51.2 252 50.8 255 50.6 258 50.5 261 50.6 264 50.7 267 50.8 270 50.9 273 50.8 276 50.7 279 50.6 282 50.5 285 50.5 288 50.5 291 50.5 294 50.5 297 50.5 300 50.6 303 50.7 306 50.9 309 51.5 312 52.3 315 53.3 318 54.3 321 55.1 324 55.8 327 56.4 330 57.1 333 57.8 336 58.6 339 59.4 342 60.2 345 60.8 348 61.3 351 61.4 354 61.4 357 61.4 360 61.3 363 61.1 366 60.7 369 59.8 372 58.5 375 57.5 378 56.4 381 55.4 384 54.3 387 53.2 390 52.2 393 51.2 396 50.2 399 49.2 402 48.3 405 47.6 408 47 411 46.5 414 46 417 45.6 420 45.3 423 45 426 44.8 429 44.7 436 44.7 L436 125Z" fill="#ff9e00"/>
<path d="M160 125L160 51.2 168 51.2 171 51.3 174 51.4 177 51.5 180 51.7 183 51.9 186 52.1 189 52.5 192 52.8 195 53.3 198 53.8 201 54.3 204 55.1 207 56 210 56.7 213 57.3 216 57.8 219 58.1 222 58.4 225 58.6 228 58.5 231 58.2 234 57.8 237 57.2 240 55.9 243 53.8 246 52.6 249 51.9 252 51.5 255 51.2 258 51.1 261 51.1 264 51.1 267 51.2 270 51.2 273 51.1 276 50.9 279 50.8 282 50.7 285 50.7 288 50.7 291 50.7 294 50.7 297 50.7 300 50.8 303 51 306 51.3 309 51.8 312 52.7 315 53.7 318 54.7 321 55.5 324 56.3 327 57 330 57.7 333 58.5 336 59.3 339 60.1 342 60.9 345 61.6 348 62.1 351 62.2 354 62.2 357 62.2 360 62.2 363 62 366 61.6 369 60.6 372 59.3 375 58.2 378 57.1 381 55.9 384 54.8 387 53.7 390 52.6 393 51.6 396 50.5 399 49.5 402 48.5 405 47.8 408 47.2 411 46.6 414 46.1 417 45.7 420 45.4 423 45.1 426 44.8 429 44.7 436 44.7 L436 125Z" fill="#ff9200"/>
<path d="M160 125L160 51.3 168 51.3 171 51.3 174 51.4 177 51.6 180 51.8 183 52 186 52.2 189 52.6 192 53 195 53.5 198 54 201 54.6 204 55.4 207 56.3 210 57.1 213 57.8 216 58.2 219 58.6 222 58.9 225 59.2 228 59.1 231 58.8 234 58.4 237 57.8 240 56.5 243 54.6 246 53.3 249 52.6 252 52.2 255 51.8 258 51.6 261 51.6 264 51.6 267 51.6 270 51.6 273 51.4 276 51.2 279 51.1 282 50.9 285 50.9 288 50.9 291 50.9 294 50.9 297 50.9 300 51.1 303 51.3 306 51.6 309 52.2 312 53.1 315 54.1 318 55.2 321 56 324 56.8 327 57.6 330 58.3 333 59.1 336 59.9 339 60.8 342 61.6 345 62.3 348 62.9 351 63.1 354 63.1 357 63.1 360 63 363 62.8 366 62.4 369 61.4 372 60 375 58.9 378 57.7 381 56.5 384 55.3 387 54.2 390 53 393 51.9 396 50.8 399 49.7 402 48.7 405 47.9 408 47.3 411 46.7 414 46.2 417 45.8 420 45.5 423 45.2 426 44.9 429 44.8 436 44.8 L436 125Z" fill="#ff8700"/>
<path d="M160 125L160 51.4 168 51.4 171 51.4 174 51.5 177 51.7 180 51.9 183 52.2 186 52.4 189 52.8 192 53.2 195 53.7 198 54.3 201 54.9 204 55.8 207 56.8 210 57.7 213 58.3 216 58.9 219 59.4 222 59.8 225 60 228 60 231 59.7 234 59.3 237 58.7 240 57.5 243 55.6 246 54.4 249 53.6 252 53.1 255 52.7 258 52.3 261 52.2 264 52.2 267 52.1 270 52 273 51.8 276 51.6 279 51.4 282 51.2 285 51.2 288 51.2 291 51.2 294 51.2 297 51.2 300 51.4 303 51.7 306 52 309 52.6 312 53.6 315 54.7 318 55.7 321 56.6 324 57.4 327 58.2 330 59 333 59.8 336 60.7 339 61.6 342 62.5 345 63.2 348 63.9 351 64 354 64.1 357 64.1 360 64 363 63.8 366 63.4 369 62.3 372 60.9 375 59.7 378 58.4 381 57.2 384 55.9 387 54.7 390 53.5 393 52.4 396 51.2 399 50.1 402 49 405 48.2 408 47.5 411 46.9 414 46.4 417 46 420 45.6 423 45.3 426 45 429 44.9 436 44.9 L436 125Z" fill="#ff7c00"/>
<path d="M160 125L160 51.6 168 51.6 171 51.6 174 51.7 177 51.9 180 52.2 183 52.4 186 52.7 189 53.1 192 53.6 195 54.1 198 54.7 201 55.4 204 56.3 207 57.3 210 58.3 213 59.1 216 59.8 219 60.4 222 60.8 225 61.2 228 61.2 231 61 234 60.6 237 60 240 58.9 243 57 246 55.8 249 55 252 54.3 255 53.8 258 53.3 261 53.1 264 52.9 267 52.8 270 52.6 273 52.3 276 52.1 279 51.8 282 51.6 285 51.5 288 51.6 291 51.6 294 51.6 297 51.7 300 51.9 303 52.1 306 52.5 309 53.2 312 54.2 315 55.3 318 56.3 321 57.3 324 58.1 327 59 330 59.8 333 60.6 336 61.5 339 62.5 342 63.4 345 64.2 348 64.9 351 65.1 354 65.2 357 65.2 360 65.1 363 64.9 366 64.5 369 63.3 372 61.9 375 60.6 378 59.2 381 57.9 384 56.6 387 55.3 390 54.1 393 52.9 396 51.7 399 50.5 402 49.4 405 48.5 408 47.9 411 47.3 414 46.7 417 46.3 420 45.9 423 45.5 426 45.3 429 45.1 436 45.1 L436 125Z" fill="#ff7000"/>
<path d="M160 125L160 51.8 168 51.8 171 51.8 174 51.9 177 52.2 180 52.4 183 52.7 186 53 189 53.4 192 53.9 195 54.5 198 55.1 201 55.9 204 56.8 207 57.8 210 58.9 213 59.8 216 60.6 219 61.4 222 61.9 225 62.3 228 62.4 231 62.2 234 61.9 237 61.3 240 60.2 243 58.4 246 57.2 249 56.3 252 55.5 255 54.9 258 54.3 261 53.9 264 53.7 267 53.5 270 53.2 273 52.8 276 52.5 279 52.2 282 52 285 51.9 288 51.9 291 52 294 52 297 52.1 300 52.3 303 52.6 306 53 309 53.7 312 54.7 315 55.9 318 57 321 58 324 58.8 327 59.7 330 60.5 333 61.4 336 62.3 339 63.4 342 64.4 345 65.2 348 65.9 351 66.2 354 66.3 357 66.3 360 66.3 363 66 366 65.5 369 64.4 372 62.9 375 61.5 378 60 381 58.6 384 57.3 387 56 390 54.7 393 53.5 396 52.2 399 50.9 402 49.8 405 48.9 408 48.2 411 47.6 414 47 417 46.6 420 46.1 423 45.8 426 45.5 429 45.3 436 45.3 L436 125Z" fill="#ff6500"/>
<path d="M160 125L160 51.9 168 51.9 171 52 174 52.2 177 52.4 180 52.6 183 53 186 53.3 189 53.7 192 54.3 195 54.9 198 55.6 201 56.3 204 57.3 207 58.4 210 59.5 213 60.5 216 61.5 219 62.4 222 63 225 63.4 228 63.5 231 63.4 234 63.1 237 62.6 240 61.5 243 59.8 246 58.5 249 57.6 252 56.7 255 56 258 55.3 261 54.8 264 54.5 267 54.1 270 53.8 273 53.3 276 53 279 52.7 282 52.4 285 52.3 288 52.3 291 52.3 294 52.4 297 52.5 300 52.7 303 53.1 306 53.5 309 54.3 312 55.3 315 56.5 318 57.6 321 58.6 324 59.5 327 60.4 330 61.3 333 62.2 336 63.2 339 64.3 342 65.3 345 66.2 348 67 351 67.3 354 67.4 357 67.5 360 67.4 363 67.1 366 66.6 369 65.4 372 63.8 375 62.4 378 60.8 381 59.3 384 57.9 387 56.6 390 55.3 393 54 396 52.7 399 51.4 402 50.2 405 49.3 408 48.5 411 47.9 414 47.3 417 46.8 420 46.4 423 46 426 45.7 429 45.5 436 45.5 L436 125Z" fill="#ff5a00"/>
<path d="M160 125L160 52.1 168 52.1 171 52.2 174 52.4 177 52.6 180 52.9 183 53.2 186 53.6 189 54 192 54.6 195 55.2 198 56 201 56.8 204 57.8 207 58.9 210 60.1 213 61.2 216 62.3 219 63.4 222 64 225 64.5 228 64.7 231 64.7 234 64.4 237 63.9 240 62.9 243 61.2 246 59.9 249 58.9 252 57.9 255 57.1 258 56.2 261 55.7 264 55.2 267 54.8 270 54.4 273 53.9 276 53.5 279 53.1 282 52.8 285 52.6 288 52.7 291 52.7 294 52.8 297 52.9 300 53.2 303 53.6 306 54.1 309 54.8 312 55.9 315 57.1 318 58.3 321 59.3 324 60.2 327 61.1 330 62 333 63 336 64 339 65.2 342 66.3 345 67.2 348 68 351 68.3 354 68.5 357 68.6 360 68.5 363 68.2 366 67.7 369 66.5 372 64.8 375 63.3 378 61.7 381 60.1 384 58.6 387 57.2 390 55.9 393 54.5 396 53.2 399 51.8 402 50.6 405 49.6 408 48.9 411 48.2 414 47.6 417 47.1 420 46.7 423 46.2 426 45.9 429 45.7 436 45.7 L436 125Z" fill="#ff4f00"/>
<path d="M160 125L160 52.3 168 52.3 171 52.4 174 52.6 177 52.8 180 53.1 183 53.5 186 53.9 189 54.3 192 54.9 195 55.6 198 56.4 201 57.2 204 58.3 207 59.5 210 60.7 213 61.9 216 63.2 219 64.4 222 65.1 225 65.6 228 65.9 231 65.9 234 65.7 237 65.2 240 64.2 243 62.6 246 61.3 249 60.2 252 59.2 255 58.2 258 57.2 261 56.5 264 56 267 55.5 270 55 273 54.4 276 53.9 279 53.5 282 53.2 285 53 288 53 291 53.1 294 53.2 297 53.3 300 53.6 303 54.1 306 54.6 309 55.4 312 56.5 315 57.7 318 58.9 321 60 324 60.9 327 61.8 330 62.8 333 63.7 336 64.8 339 66.1 342 67.2 345 68.2 348 69.1 351 69.4 354 69.6 357 69.7 360 69.7 363 69.4 366 68.8 369 67.5 372 65.8 375 64.2 378 62.5 381 60.8 384 59.3 387 57.8 390 56.4 393 55.1 396 53.7 399 52.3 402 51 405 50 408 49.2 411 48.5 414 47.9 417 47.4 420 46.9 423 46.5 426 46.1 429 45.9 436 45.9 L436 125Z" fill="#ff4400"/>
<path d="M160 125L160 52.5 168 52.5 171 52.6 174 52.8 177 53 180 53.4 183 53.7 186 54.2 189 54.7 192 55.3 195 56 198 56.8 201 57.7 204 58.8 207 60 210 61.3 213 62.6 216 64.1 219 65.4 222 66.2 225 66.8 228 67.1 231 67.1 234 66.9 237 66.4 240 65.5 243 64 246 62.7 249 61.5 252 60.4 255 59.3 258 58.2 261 57.4 264 56.7 267 56.1 270 55.5 273 54.9 276 54.4 279 53.9 282 53.5 285 53.4 288 53.4 291 53.5 294 53.6 297 53.7 300 54.1 303 54.5 306 55.1 309 55.9 312 57.1 315 58.3 318 59.6 321 60.6 324 61.6 327 62.6 330 63.5 333 64.5 336 65.6 339 67 342 68.2 345 69.2 348 70.1 351 70.5 354 70.7 357 70.9 360 70.8 363 70.5 366 69.9 369 68.5 372 66.8 375 65.1 378 63.3 381 61.5 384 59.9 387 58.4 390 57 393 55.6 396 54.1 399 52.7 402 51.4 405 50.4 408 49.6 411 48.9 414 48.2 417 47.7 420 47.2 423 46.7 426 46.3 429 46.1 436 46.1 L436 125Z" fill="#ff3800"/>
<path d="M160 125L160 52.7 168 52.7 171 52.8 174 53 177 53.3 180 53.6 183 54 186 54.4 189 55 192 55.6 195 56.4 198 57.2 201 58.1 204 59.3 207 60.6 210 62 213 63.3 216 64.9 219 66.4 222 67.3 225 67.9 228 68.2 231 68.4 234 68.2 237 67.7 240 66.9 243 65.4 246 64.1 249 62.8 252 61.6 255 60.4 258 59.2 261 58.2 264 57.5 267 56.8 270 56.1 273 55.4 276 54.9 279 54.3 282 53.9 285 53.8 288 53.8 291 53.9 294 54 297 54.2 300 54.5 303 55 306 55.6 309 56.5 312 57.7 315 58.9 318 60.2 321 61.3 324 62.3 327 63.3 330 64.3 333 65.3 336 66.5 339 67.9 342 69.2 345 70.2 348 71.1 351 71.6 354 71.9 357 72 360 71.9 363 71.6 366 71 369 69.6 372 67.7 375 66 378 64.1 381 62.2 384 60.6 387 59.1 390 57.6 393 56.1 396 54.6 399 53.2 402 51.8 405 50.8 408 49.9 411 49.2 414 48.5 417 48 420 47.4 423 46.9 426 46.5 429 46.3 436 46.3 L436 125Z" fill="#ff2d00"/>
<path d="M160 125L160 52.9 168 52.9 171 53 174 53.2 177 53.5 180 53.9 183 54.3 186 54.7 189 55.3 192 56 195 56.7 198 57.6 201 58.6 204 59.8 207 61.1 210 62.6 213 64 216 65.8 219 67.4 222 68.3 225 69 228 69.4 231 69.6 234 69.4 237 69 240 68.2 243 66.8 246 65.4 249 64.1 252 62.8 255 61.4 258 60.1 261 59.1 264 58.2 267 57.5 270 56.7 273 55.9 276 55.3 279 54.8 282 54.3 285 54.1 288 54.2 291 54.2 294 54.4 297 54.6 300 55 303 55.5 306 56.1 309 57.1 312 58.2 315 59.5 318 60.8 321 62 324 63 327 64 330 65 333 66.1 336 67.3 339 68.8 342 70.1 345 71.2 348 72.2 351 72.7 354 73 357 73.1 360 73.1 363 72.7 366 72.1 369 70.6 372 68.7 375 66.9 378 64.9 381 63 384 61.3 387 59.7 390 58.2 393 56.7 396 55.1 399 53.6 402 52.2 405 51.1 408 50.2 411 49.5 414 48.8 417 48.2 420 47.7 423 47.2 426 46.7 429 46.5 436 46.5 L436 125Z" fill="#ff2200"/>
<path d="M160 125L160 53 168 53 171 53.1 174 53.4 177 53.7 180 54.1 183 54.5 186 55 189 55.6 192 56.3 195 57.1 198 58 201 59 204 60.3 207 61.7 210 63.2 213 64.7 216 66.6 219 68.3 222 69.4 225 70.1 228 70.6 231 70.8 234 70.7 237 70.3 240 69.5 243 68.1 246 66.8 249 65.4 252 64 255 62.5 258 61.1 261 59.9 264 59 267 58.1 270 57.3 273 56.5 276 55.8 279 55.2 282 54.7 285 54.5 288 54.5 291 54.6 294 54.8 297 55 300 55.4 303 56 306 56.6 309 57.6 312 58.8 315 60.2 318 61.5 321 62.6 324 63.7 327 64.7 330 65.8 333 66.9 336 68.1 339 69.7 342 71.1 345 72.2 348 73.2 351 73.7 354 74.1 357 74.3 360 74.2 363 73.8 366 73.2 369 71.7 372 69.7 375 67.8 378 65.7 381 63.7 384 61.9 387 60.3 390 58.7 393 57.2 396 55.6 399 54 402 52.6 405 51.5 408 50.6 411 49.8 414 49.1 417 48.5 420 47.9 423 47.4 426 47 429 46.7 436 46.7 L436 125Z" fill="#ff1600"/>
<path d="M160 125L160 53.2 168 53.2 171 53.3 174 53.6 177 53.9 180 54.3 183 54.8 186 55.3 189 55.9 192 56.6 195 57.5 198 58.4 201 59.5 204 60.8 207 62.2 210 63.8 213 65.5 216 67.5 219 69.3 222 70.5 225 71.2 228 71.8 231 72.1 234 72 237 71.6 240 70.9 243 69.5 246 68.2 249 66.7 252 65.2 255 63.6 258 62.1 261 60.8 264 59.8 267 58.8 270 57.9 273 57 276 56.3 279 55.6 282 55.1 285 54.9 288 54.9 291 55 294 55.2 297 55.4 300 55.9 303 56.5 306 57.2 309 58.2 312 59.4 315 60.8 318 62.1 321 63.3 324 64.4 327 65.4 330 66.5 333 67.6 336 68.9 339 70.5 342 72 345 73.2 348 74.2 351 74.8 354 75.2 357 75.4 360 75.3 363 74.9 366 74.3 369 72.7 372 70.7 375 68.7 378 66.5 381 64.4 384 62.6 387 60.9 390 59.3 393 57.7 396 56.1 399 54.5 402 53 405 51.9 408 50.9 411 50.1 414 49.4 417 48.8 420 48.2 423 47.6 426 47.2 429 46.9 436 46.9 L436 125Z" fill="#ff0b00"/>
<path d="M160 125L160 53.4 168 53.4 171 53.5 174 53.8 177 54.2 180 54.6 183 55.1 186 55.6 189 56.2 192 57 195 57.9 198 58.9 201 59.9 204 61.3 207 62.8 210 64.4 213 66.2 216 68.3 219 70.3 222 71.5 225 72.4 228 72.9 231 73.3 234 73.2 237 72.9 240 72.2 243 70.9 246 69.6 249 68 252 66.4 255 64.7 258 63.1 261 61.7 264 60.5 267 59.5 270 58.5 273 57.5 276 56.7 279 56 282 55.5 285 55.2 288 55.3 291 55.4 294 55.6 297 55.8 300 56.3 303 56.9 306 57.7 309 58.7 312 60 315 61.4 318 62.8 321 64 324 65.1 327 66.2 330 67.2 333 68.4 336 69.8 339 71.4 342 73 345 74.2 348 75.3 351 75.9 354 76.3 357 76.6 360 76.5 363 76 366 75.4 369 73.7 372 71.6 375 69.6 378 67.3 381 65.2 384 63.3 387 61.5 390 59.9 393 58.3 396 56.6 399 54.9 402 53.4 405 52.2 408 51.3 411 50.4 414 49.7 417 49.1 420 48.5 423 47.9 426 47.4 429 47.1 436 47.1 L436 125Z" fill="#ff0000"/>
</g>
<g filter="url(#b2)" fill="#b890ff" opacity="0.6"><ellipse cx="200" cy="38.6" rx="30" ry="3.4"/><ellipse cx="397" cy="35" rx="22" ry="2.4"/><ellipse cx="300" cy="38" rx="14" ry="2.5"/></g>
<rect x="287.5" y="30" width="14.6" height="90" fill="#fff" opacity="0.66"/>
</g>
<path d="M298.15 31.2L297.6 116" stroke="#111" stroke-width="1.7" fill="none"/>
<g clip-path="url(#cb)">
<rect x="75" y="128" width="430" height="80" fill="#ff0000"/>
<g filter="url(#b07)">
<polygon points="335.2,210 335.2,203 337.5,200 341.9,190 345.8,178 347.1,171.6 349.9,165.7 353.5,161.5 360.6,157.7 371.2,153.4 378.2,149.6 384.9,146 391.4,143 398,141.4 404.5,140.2 410.5,139.7 422,139.2 479,139.1 482.5,140.6 484.8,146 484.9,210" fill="#f40000"/>
<polygon points="335.8,210 335.8,203 338.4,200 343.6,190 348.2,178 349.3,171.6 351.7,165.7 355.2,161.6 361.8,158 371.8,153.7 378.6,149.8 385.2,146.2 391.6,143.1 398.1,141.5 404.5,140.3 410.5,139.8 422,139.3 479,139.2 482.4,140.7 484.7,146 484.9,210" fill="#e80000"/>
<polygon points="336.2,210 336.2,203 339.3,200 345.4,190 350.8,178 351.6,171.6 353.5,165.7 356.9,161.7 363,158.2 372.2,154 378.9,149.9 385.4,146.3 391.7,143.3 398.2,141.6 404.5,140.4 410.5,139.9 422,139.4 479,139.3 482.3,140.8 484.6,146 484.8,210" fill="#dc0000"/>
<polygon points="336.8,210 336.8,203 340.3,200 347.1,190 353.2,178 353.8,171.6 355.3,165.7 358.5,161.8 364.2,158.5 372.8,154.2 379.3,150.1 385.7,146.5 391.9,143.5 398.3,141.8 404.5,140.6 410.5,140 422,139.5 479,139.4 482.3,140.8 484.4,146 484.6,210" fill="#d10000"/>
<polygon points="337.2,210 337.2,203 341.2,200 348.9,190 355.8,178 356,171.6 357.1,165.7 360.2,161.9 365.4,158.7 373.2,154.5 379.7,150.3 385.9,146.7 392.1,143.6 398.3,141.9 404.5,140.7 410.5,140.2 422,139.6 479,139.5 482.2,141 484.4,146 484.6,210" fill="#c60000"/>
<polygon points="337.8,210 337.8,203 342.2,200 350.6,190 358.2,178 358.2,171.6 358.9,165.7 361.8,162 366.6,159 373.8,154.7 380.1,150.5 386.2,146.9 392.3,143.8 398.4,142.1 404.5,140.9 410.5,140.3 422,139.7 479,139.6 482.2,141.1 484.2,146 484.4,210" fill="#ba0000"/>
<polygon points="338.2,210 338.2,203 343.1,200 352.4,190 360.8,178 360.5,171.6 360.7,165.7 363.5,162.1 367.8,159.2 374.2,155 380.4,150.6 386.4,147 392.4,144 398.5,142.2 404.5,141 410.5,140.4 422,139.8 479,139.7 482.1,141.2 484.1,146 484.3,210" fill="#ae0000"/>
<polygon points="338.8,210 338.8,203 344,200 354.1,190 363.2,178 362.7,171.6 362.5,165.7 365.2,162.2 369,159.5 374.8,155.3 380.8,150.8 386.7,147.2 392.6,144.1 398.6,142.3 404.5,141.1 410.5,140.5 422,139.9 479,139.8 482,141.2 484.1,146 484.2,210" fill="#a30000"/>
</g>
<g filter="url(#b1)">
<polygon points="78,130 190.6,130 190.6,142 189.8,150 188.2,165 186.6,183 186.4,200 78,200" fill="#ff7800"/>
</g><g filter="url(#b07)">
<polygon points="78,130 188.3,130 188.3,142 187.5,150 185.9,165 184.3,183 184,200 78,200" fill="#d0d000"/>
<polygon points="78,130 186.5,130 186.5,142 185.7,150 184.1,165 182.5,183 182.2,200 78,200" fill="#3c9c00"/>
</g><g filter="url(#b1)">
<polygon points="78,130 182.5,130 182.5,143 181.5,150 179.3,165 177.4,183 177,200 78,200" fill="#00b80a"/>
</g>
<g filter="url(#b15)">
<polygon points="78,143 178,143 176.5,165 174,200 78,200" fill="#00cc30"/>
<polygon points="100,148.6 160,148.2 170.5,150.5 174,157 173,200 100,200" fill="#00e494"/>
</g>
<g filter="url(#b07)">
<path d="M78 143.6H181V147.2H78Z" fill="#00d400"/>
<path d="M96 147.1L149 146.9Q158.8 147.1 158.8 157V200H96Z" fill="#00dce6"/>
<path d="M98 149.5L147 149.3Q152.6 149.5 152.6 157V200H98Z" fill="#0000dc"/>
</g>
<g filter="url(#b07)">
<polygon points="79,145 86,136 105,136 101,140.3 93,142.4 88,143.6" fill="#c4c400"/>
<ellipse cx="94" cy="137.4" rx="9" ry="2.7" fill="#ff9a00"/>
<ellipse cx="94" cy="137.2" rx="7.6" ry="1.9" fill="#ff1800"/>
<path d="M133 143.1H187.5V136H133Z" fill="#d2d200"/>
<path d="M133 139.8H160V136H133Z" fill="#f08000"/>
<path d="M155 141.9H190V136H155Z" fill="#ff0000"/>
<ellipse cx="123.5" cy="137.4" rx="11.2" ry="5.4" fill="#dede00"/>
<ellipse cx="123.5" cy="137.2" rx="10" ry="4.5" fill="#ff0000"/>
</g><g filter="url(#b05)">
<ellipse cx="169.3" cy="137.6" rx="3.4" ry="1.8" fill="#a30000"/>
<ellipse cx="181" cy="137.6" rx="4.4" ry="2" fill="#a30000"/>
<ellipse cx="195" cy="137.6" rx="5.5" ry="2.4" fill="#a30000"/>
<ellipse cx="253" cy="137.6" rx="11" ry="2" fill="#a30000"/>
</g>
<g filter="url(#b1)"><path d="M206.6 139H220.4Q222.6 146 222.2 152Q221.4 158.8 213 158.8Q204.4 158.8 203.8 151Q203.8 145 206.6 139Z" fill="#9e0000"/></g>
<g filter="url(#b2)"><ellipse cx="237.4" cy="148.4" rx="18.5" ry="10.2" transform="rotate(39 237.4 148.4)" fill="#ff6a00"/></g>
<g filter="url(#b1)"><ellipse cx="235.8" cy="147" rx="15.2" ry="7.9" transform="rotate(39 235.8 147)" fill="#c6c600"/></g>
<g filter="url(#b07)">
<ellipse cx="233" cy="143.9" rx="10.6" ry="6.6" transform="rotate(35 233 143.9)" fill="#289e00"/>
<ellipse cx="233" cy="142" rx="9" ry="5.4" transform="rotate(31 233 142)" fill="#00d428"/>
<ellipse cx="234" cy="138.8" rx="6.6" ry="4.3" fill="#00d8d8"/>
<ellipse cx="234" cy="138.3" rx="5.7" ry="3.8" fill="#0010e2"/>
</g>
<g filter="url(#b15)"><rect x="270" y="134" width="76" height="8.4" fill="#ff8000"/></g>
<g filter="url(#b1)">
<rect x="271.5" y="135" width="74" height="5.8" fill="#dcdc00"/>
<rect x="288" y="135" width="13.5" height="4.4" fill="#38c400"/>
</g>
<g filter="url(#b15)"><rect x="355.5" y="130" width="27.5" height="19.8" rx="7" fill="#ff8c00"/></g>
<g filter="url(#b1)"><rect x="357.2" y="130" width="24.4" height="18.6" rx="6.5" fill="#9c9c00"/>
<rect x="358.6" y="130" width="21.6" height="16.6" rx="6" fill="#c4c408"/></g>
<g filter="url(#b15)"><ellipse cx="369.3" cy="140" rx="8.6" ry="4.6" fill="#e0e018"/></g>
<g filter="url(#b05)"><ellipse cx="367.7" cy="133.6" rx="7.6" ry="2.3" fill="#a30000"/></g>
<g filter="url(#b07)">
<path d="M382 130V135.2Q392 135.6 397 137.2Q402 138.9 412 138.9H479Q484.5 139.2 486.5 144.5L490 150H505V130Z" fill="#ff5000"/>
<path d="M399.3 130L401 134Q404 138 414.5 138.3H479.5Q485.5 138.6 487.5 144L490 150H505V130Z" fill="#ecec00"/>
<path d="M403.3 130L405.3 134Q408 137.2 418.5 137.5H480Q486.6 137.8 488.5 143L492 150H505V130Z" fill="#00d200"/>
<path d="M411.3 130L413.3 133.8Q416 135.7 424 136H481Q488.6 136.3 491 141L495 150H505V130Z" fill="#00c8c8"/>
<path d="M413 130L415 133.6Q418 135.3 426 135.6H482Q489.6 135.9 492 141L496 150H505V130Z" fill="#0000d8"/>
</g>
</g>
</svg></body></html>
